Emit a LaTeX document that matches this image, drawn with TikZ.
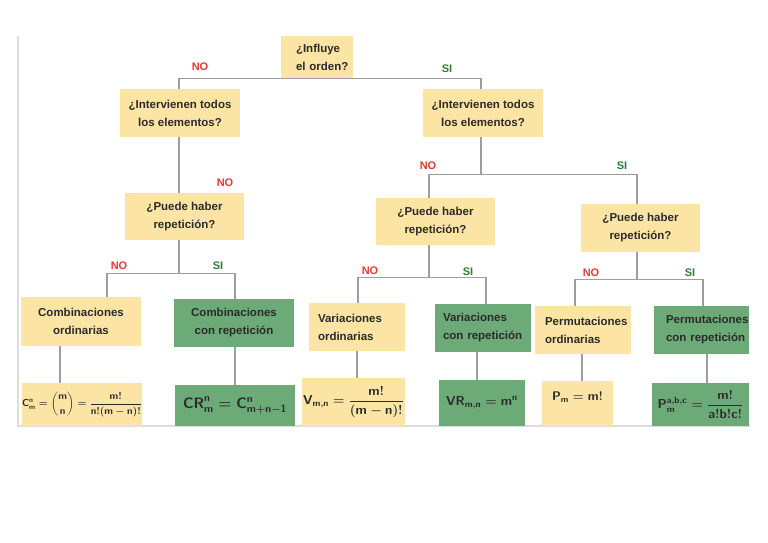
\RequirePackage{fix-cm}
\documentclass[tikz,border=0pt]{standalone}
\usepackage{amsmath}
\usepackage{fontspec}
\setmainfont{Liberation Sans}
\usetikzlibrary{backgrounds}
\definecolor{ybox}{HTML}{FCE4A4}
\definecolor{gbox}{HTML}{6CAA78}
\definecolor{connc}{HTML}{9E9E9E}
\definecolor{noRed}{HTML}{E53935}
\definecolor{siGreen}{HTML}{2E7D32}
\definecolor{txtc}{HTML}{2B2B2B}
\definecolor{frameGray}{HTML}{DDDDDD}
\tikzset{
  box/.style={rectangle, inner sep=0pt, text=txtc, font=\fontsize{11.5}{18}\selectfont\bfseries, align=center},
  ybx/.style={box, fill=ybox},
  gbx/.style={box, fill=gbox},
  sz/.style 2 args={minimum width=#1, minimum height=#2},
  lft/.style={align=left, text width=#1},
  fml/.style={font=\fontsize{#1}{#1}\selectfont\boldmath},
  conn/.style={draw=connc, line width=1.2pt},
  nolab/.style={text=noRed, font=\fontsize{11}{13}\selectfont\bfseries, inner sep=0pt},
  silab/.style={text=siGreen, font=\fontsize{11}{13}\selectfont\bfseries, inner sep=0pt}
}
\begin{document}
\begin{tikzpicture}[x=1pt, y=-1pt]
\useasboundingbox (0,0) rectangle (768,543);

% question boxes
\node[ybx, sz={72pt}{42pt}, lft=42pt] (Q1) at (317,57) {\mbox{¿Influye}\\\mbox{el orden?}};
\node[ybx, sz={120pt}{48pt}] (QL) at (180,113) {¿Intervienen todos\\los elementos?};
\node[ybx, sz={120pt}{48pt}] (QR) at (483,113) {¿Intervienen todos\\los elementos?};
\node[ybx, sz={119pt}{47pt}] (PL) at (184.5,216.5) {¿Puede haber\\repetición?};
\node[ybx, sz={119pt}{47pt}] (PM) at (435.5,221.5) {¿Puede haber\\repetición?};
\node[ybx, sz={119pt}{48pt}] (PR) at (640.5,228) {¿Puede haber\\repetición?};

% result boxes
\node[ybx, sz={120pt}{49pt}] (CO) at (81,321.5) {Combinaciones\\ordinarias};
\node[gbx, sz={120pt}{48pt}] (CRB) at (234,323) {Combinaciones\\con repetición};
\node[ybx, sz={96pt}{48pt}, lft=78pt] (VO) at (357,327) {\mbox{Variaciones}\\\mbox{ordinarias}};
\node[gbx, sz={96pt}{48pt}, lft=80pt] (VRB) at (483,328) {\mbox{Variaciones}\\\mbox{con repetición}};
\node[ybx, sz={96pt}{48pt}, lft=76pt] (PO) at (583,330) {\mbox{Permutaciones}\\\mbox{ordinarias}};
\node[gbx, sz={95pt}{48pt}, lft=71pt] (PCR) at (701.5,330) {\mbox{Permutaciones}\\\mbox{con repetición}};

% formula boxes
\node[ybx, sz={120pt}{43pt}, fml=10] (FC) at (82,404.5)
  {$\displaystyle\mathsf{C}^{\mathsf n}_{\mathsf m}=\binom{\mathsf m}{\mathsf n}=\frac{\mathsf{m!}}{\mathsf{n!(m-n)!}}$};
\node[gbx, sz={120pt}{41pt}, fml=15] (FCR) at (235,405.5)
  {$\mathsf{CR}^{\mathsf n}_{\mathsf m}=\mathsf{C}^{\mathsf n}_{\mathsf{m+n-1}}$};
\node[ybx, sz={103pt}{48pt}, fml=13] (FV) at (353.5,402)
  {$\displaystyle\mathsf{V}_{\mathsf{m,n}}=\frac{\mathsf{m!}}{\mathsf{(m-n)!}}$};
\node[gbx, sz={86pt}{46pt}, fml=13] (FVR) at (482,403)
  {$\mathsf{VR}_{\mathsf{m,n}}=\mathsf{m}^{\mathsf n}$};
\node[ybx, sz={71pt}{45pt}, fml=12.5, text depth=14pt] (FP) at (577.5,403.5)
  {$\mathsf{P}_{\mathsf m}=\mathsf{m!}$};
\node[gbx, sz={97pt}{43pt}, fml=13] (FPabc) at (700.5,404.5)
  {$\displaystyle\mathsf{P}^{\mathsf{a,b,c}}_{\mathsf m}=\frac{\mathsf{m!}}{\mathsf{a!b!c!}}$};

% branch labels
\node[nolab] (n1) at (200,67) {NO};
\node[silab] (s1) at (447,69) {SI};
\node[nolab] (n2) at (225,183) {NO};
\node[nolab] (n3) at (428,166) {NO};
\node[silab] (s3) at (622,166) {SI};
\node[nolab] (n4) at (119,266) {NO};
\node[silab] (s4) at (218,266) {SI};
\node[nolab] (n5) at (370,271) {NO};
\node[silab] (s5) at (468,272) {SI};
\node[nolab] (n6) at (591,273) {NO};
\node[silab] (s6) at (690,273) {SI};

\begin{scope}[on background layer]
  \fill[white] (0,0) rectangle (768,543);
  \draw[frameGray, line width=1.5pt] (18,36) -- (18,426) -- (750,426);
  % level 1
  \draw[conn] ([xshift=-1pt]QL.north) |- (Q1.south) -| ([xshift=-2pt]QR.north);
  % level 2
  \draw[conn] ([xshift=-1pt]QL.south) -- ([xshift=-1pt]QL.south |- PL.north);
  \draw[conn] ([xshift=-2pt]QR.south) -- ++(0,37) coordinate (jR);
  \draw[conn] ([xshift=-6.5pt]PM.north) |- (jR) -| ([xshift=-3.5pt]PR.north);
  % level 3
  \draw[conn] ([xshift=-5.5pt]PL.south) -- ++(0,33) coordinate (jL);
  \draw[conn] ([xshift=26pt]CO.north) |- (jL) -| ([xshift=1pt]CRB.north);
  \draw[conn] ([xshift=-6.5pt]PM.south) -- ++(0,32) coordinate (jM);
  \draw[conn] ([xshift=1pt]VO.north) |- (jM) -| ([xshift=3pt]VRB.north);
  \draw[conn] ([xshift=-3.5pt]PR.south) -- ++(0,27) coordinate (jP);
  \draw[conn] ([xshift=-8pt]PO.north) |- (jP) -| ([xshift=1.5pt]PCR.north);
  % to formulas
  \draw[conn] ([xshift=-21pt]CO.south) -- ([xshift=-21pt]CO.south |- FC.north);
  \draw[conn] ([xshift=1pt]CRB.south) -- ([xshift=1pt]CRB.south |- FCR.north);
  \draw[conn] (VO.south) -- (VO.south |- FV.north);
  \draw[conn] ([xshift=-6pt]VRB.south) -- ([xshift=-6pt]VRB.south |- FVR.north);
  \draw[conn] ([xshift=-1pt]PO.south) -- ([xshift=-1pt]PO.south |- FP.north);
  \draw[conn] ([xshift=5.5pt]PCR.south) -- ([xshift=5.5pt]PCR.south |- FPabc.north);
\end{scope}
\end{tikzpicture}
\end{document}
